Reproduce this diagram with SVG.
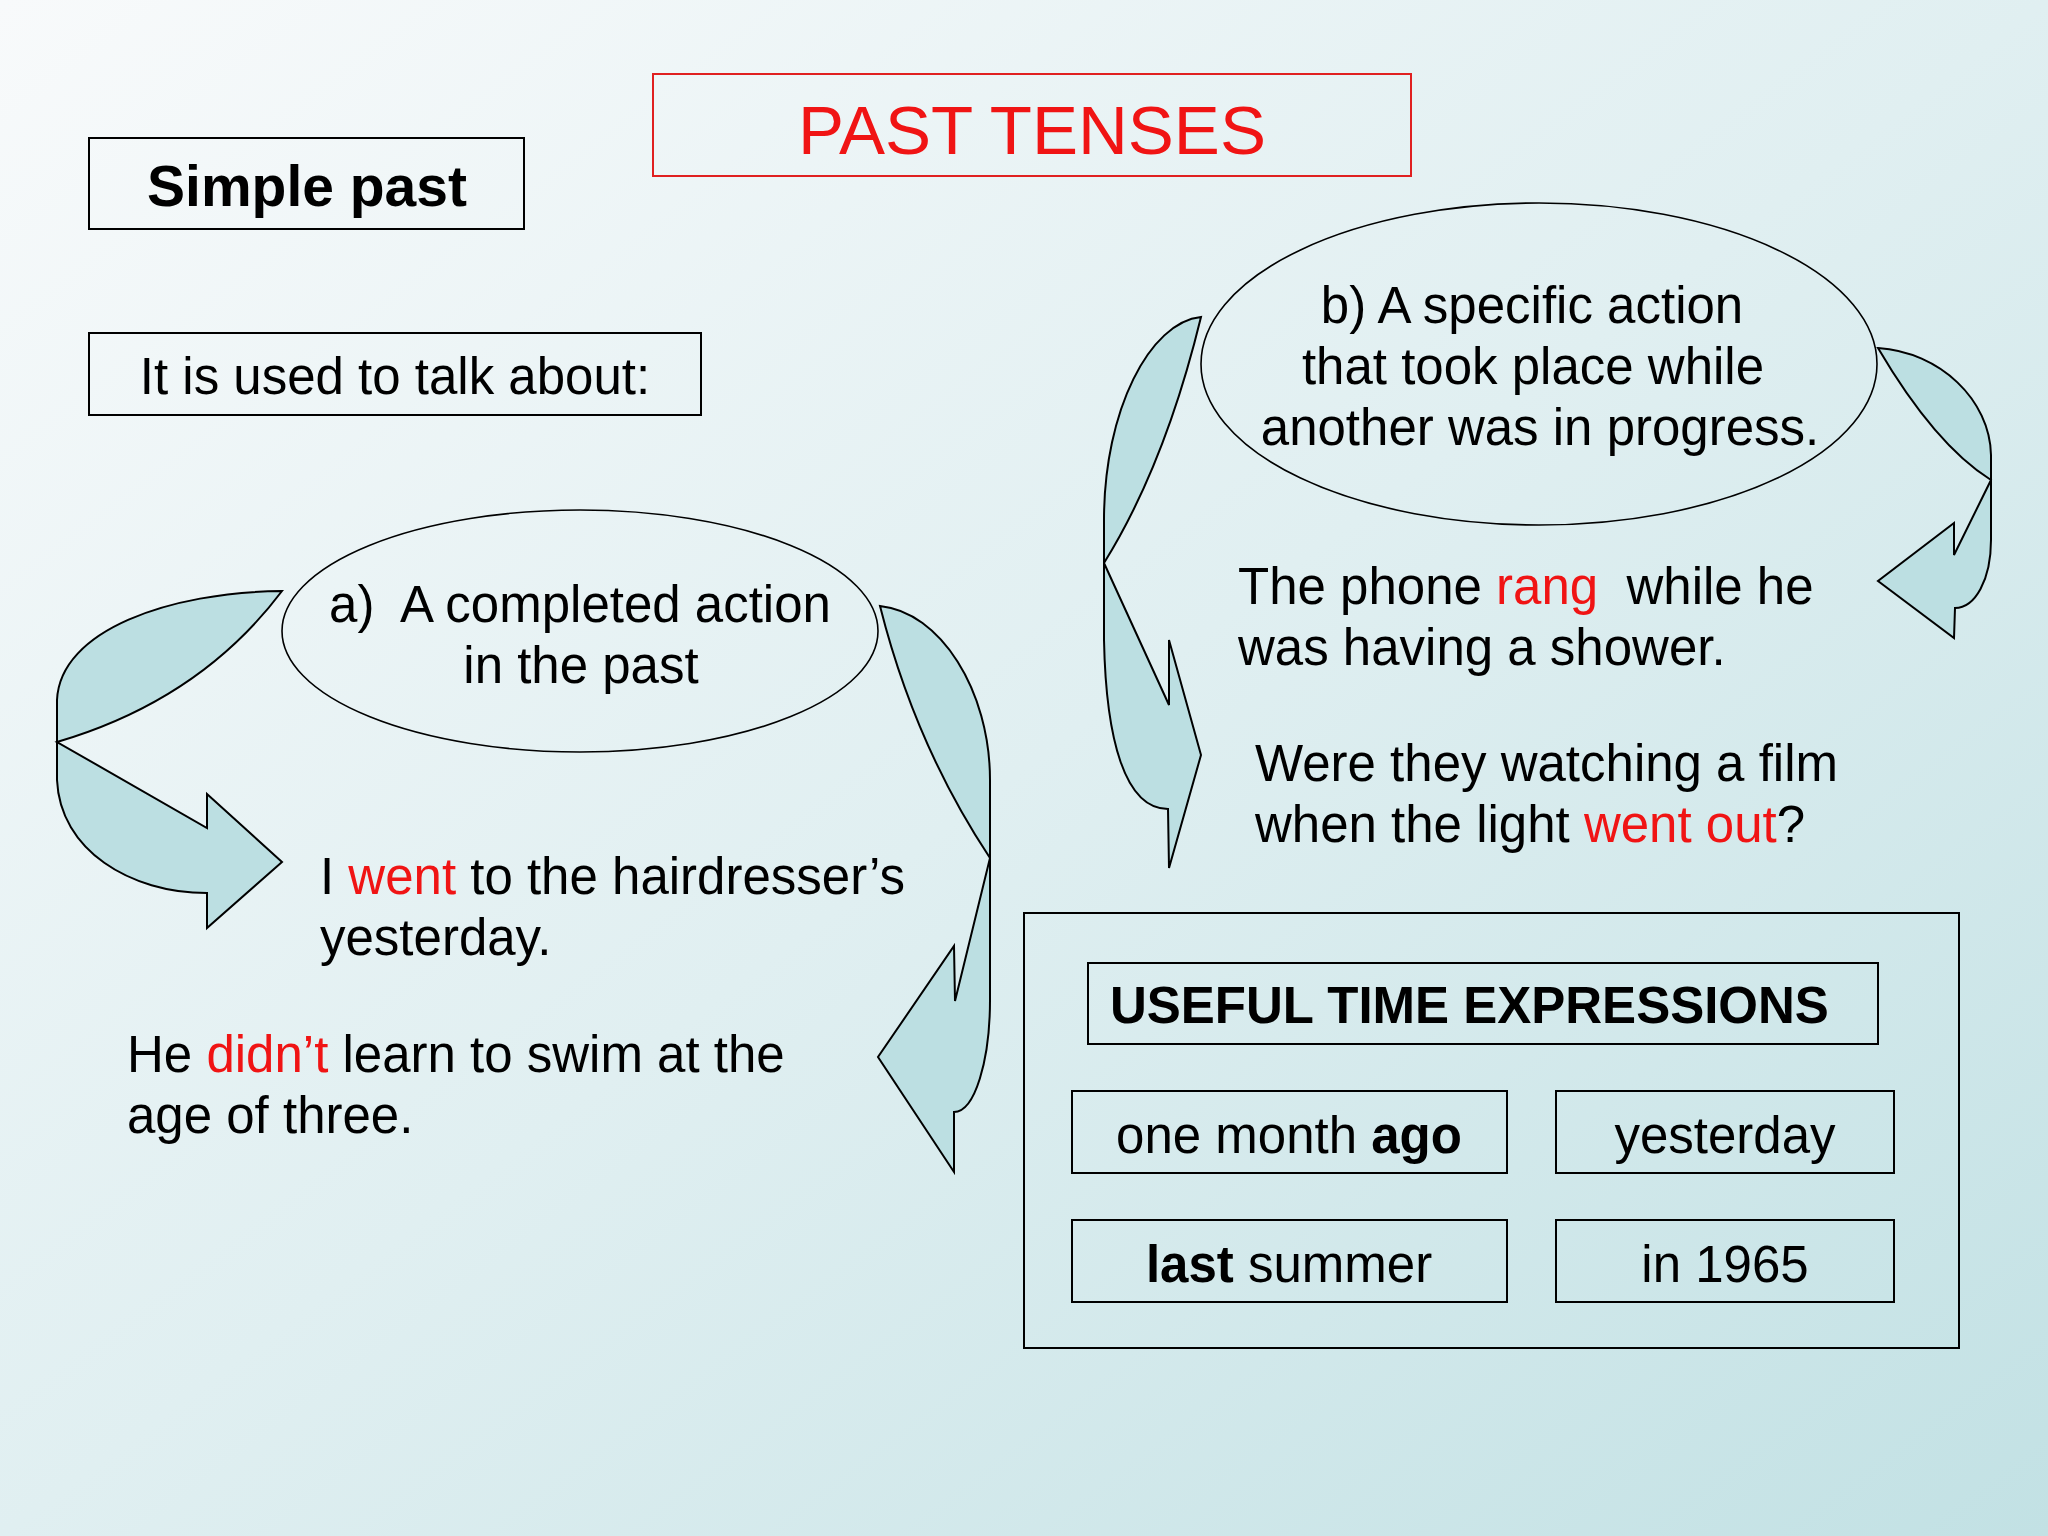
<svg xmlns="http://www.w3.org/2000/svg" width="2048" height="1536" viewBox="0 0 2048 1536">
<defs>
<linearGradient id="bg" x1="0" y1="0" x2="1" y2="1">
<stop offset="0" stop-color="#f8fafb"/>
<stop offset="0.5" stop-color="#e0eff1"/>
<stop offset="1" stop-color="#c2e1e4"/>
</linearGradient>
<style>
.t{font-family:"Liberation Sans",Arial,sans-serif;font-size:51px;fill:#000}
.b{font-weight:bold}
.r{fill:#f01414}
.box{fill:none;stroke:#000;stroke-width:2}
.ell{fill:none;stroke:#000;stroke-width:1.6}
.arr{fill:#bcdfe2;stroke:#000;stroke-width:2;stroke-linejoin:miter}
</style>
</defs>
<rect width="2048" height="1536" fill="url(#bg)"/>

<g id="connectors">
<path class="arr" d="M 282,591 C 170,592 60,630 57,700 L 57,780 C 60,850 130,893 207,893 L 207,928 L 282,862 L 207,794 L 207,828 L 57,742 Q 200,700 282,591 Z"/>
<path class="arr" d="M 880,606 C 940,612 990,690 990,780 L 990,1000 C 990,1060 975,1112 954,1112 L 954,1172 L 878,1057 L 954,946 L 955,1001 L 990,858 Q 915,745 880,606 Z"/>
<path class="arr" d="M 1201,317 C 1150,322 1104,410 1104,520 L 1104,640 C 1106,740 1125,809 1168,809 L 1169,868 L 1201,755 L 1169,640 L 1169,705 L 1104,563 Q 1165,465 1201,317 Z"/>
<path class="arr" d="M 1878,348 C 1940,352 1990,400 1991,455 L 1991,540 C 1991,580 1975,608 1955,608 L 1954,638 L 1878,581 L 1954,523 L 1954,555 L 1991,480 Q 1935,445 1878,348 Z"/>
</g>

<g id="title">
<rect x="653" y="74" width="758" height="102" fill="none" stroke="#e02020" stroke-width="2"/>
<text class="t r" x="1032" y="154" text-anchor="middle" style="font-size:69px">PAST TENSES</text>
</g>

<g id="simple-past">
<rect class="box" x="89" y="138" width="435" height="91"/>
<text class="t b" x="307" y="206" text-anchor="middle" style="font-size:57px">Simple past</text>
</g>

<g id="used-to">
<rect class="box" x="89" y="333" width="612" height="82"/>
<text class="t" x="395" y="394" text-anchor="middle">It is used to talk about:</text>
</g>

<g id="node-a">
<ellipse class="ell" cx="580" cy="631" rx="298" ry="121"/>
<text class="t" x="580" y="622" text-anchor="middle" style="white-space:pre">a)  A completed action</text>
<text class="t" x="581" y="683" text-anchor="middle">in the past</text>
</g>

<g id="node-b">
<ellipse class="ell" cx="1539" cy="364" rx="338" ry="161"/>
<text class="t" x="1532" y="323" text-anchor="middle">b) A specific action</text>
<text class="t" x="1533" y="384" text-anchor="middle">that took place while</text>
<text class="t" x="1540" y="445" text-anchor="middle">another was in progress.</text>
</g>

<g id="example-a1">
<text class="t" x="320" y="894">I <tspan class="r">went</tspan> to the hairdresser’s</text>
<text class="t" x="320" y="955">yesterday.</text>
</g>

<g id="example-a2">
<text class="t" x="127" y="1072">He <tspan class="r">didn’t</tspan> learn to swim at the</text>
<text class="t" x="127" y="1133">age of three.</text>
</g>

<g id="example-b1">
<text class="t" x="1238" y="604" style="white-space:pre">The phone <tspan class="r">rang</tspan>  while he</text>
<text class="t" x="1238" y="665">was having a shower.</text>
</g>

<g id="example-b2">
<text class="t" x="1255" y="781">Were they watching a film</text>
<text class="t" x="1255" y="842">when the light <tspan class="r">went out</tspan>?</text>
</g>

<g id="time-expressions">
<rect class="box" x="1024" y="913" width="935" height="435"/>
<rect class="box" x="1088" y="963" width="790" height="81"/>
<text class="t b" x="1110" y="1023">USEFUL TIME EXPRESSIONS</text>
</g>

<g id="te-ago">
<rect class="box" x="1072" y="1091" width="435" height="82"/>
<text class="t" x="1289" y="1153" text-anchor="middle">one month <tspan class="b">ago</tspan></text>
</g>
<g id="te-yesterday">
<rect class="box" x="1556" y="1091" width="338" height="82"/>
<text class="t" x="1725" y="1153" text-anchor="middle">yesterday</text>
</g>
<g id="te-last">
<rect class="box" x="1072" y="1220" width="435" height="82"/>
<text class="t" x="1289" y="1282" text-anchor="middle"><tspan class="b">last</tspan> summer</text>
</g>
<g id="te-1965">
<rect class="box" x="1556" y="1220" width="338" height="82"/>
<text class="t" x="1725" y="1282" text-anchor="middle">in 1965</text>
</g>
</svg>
